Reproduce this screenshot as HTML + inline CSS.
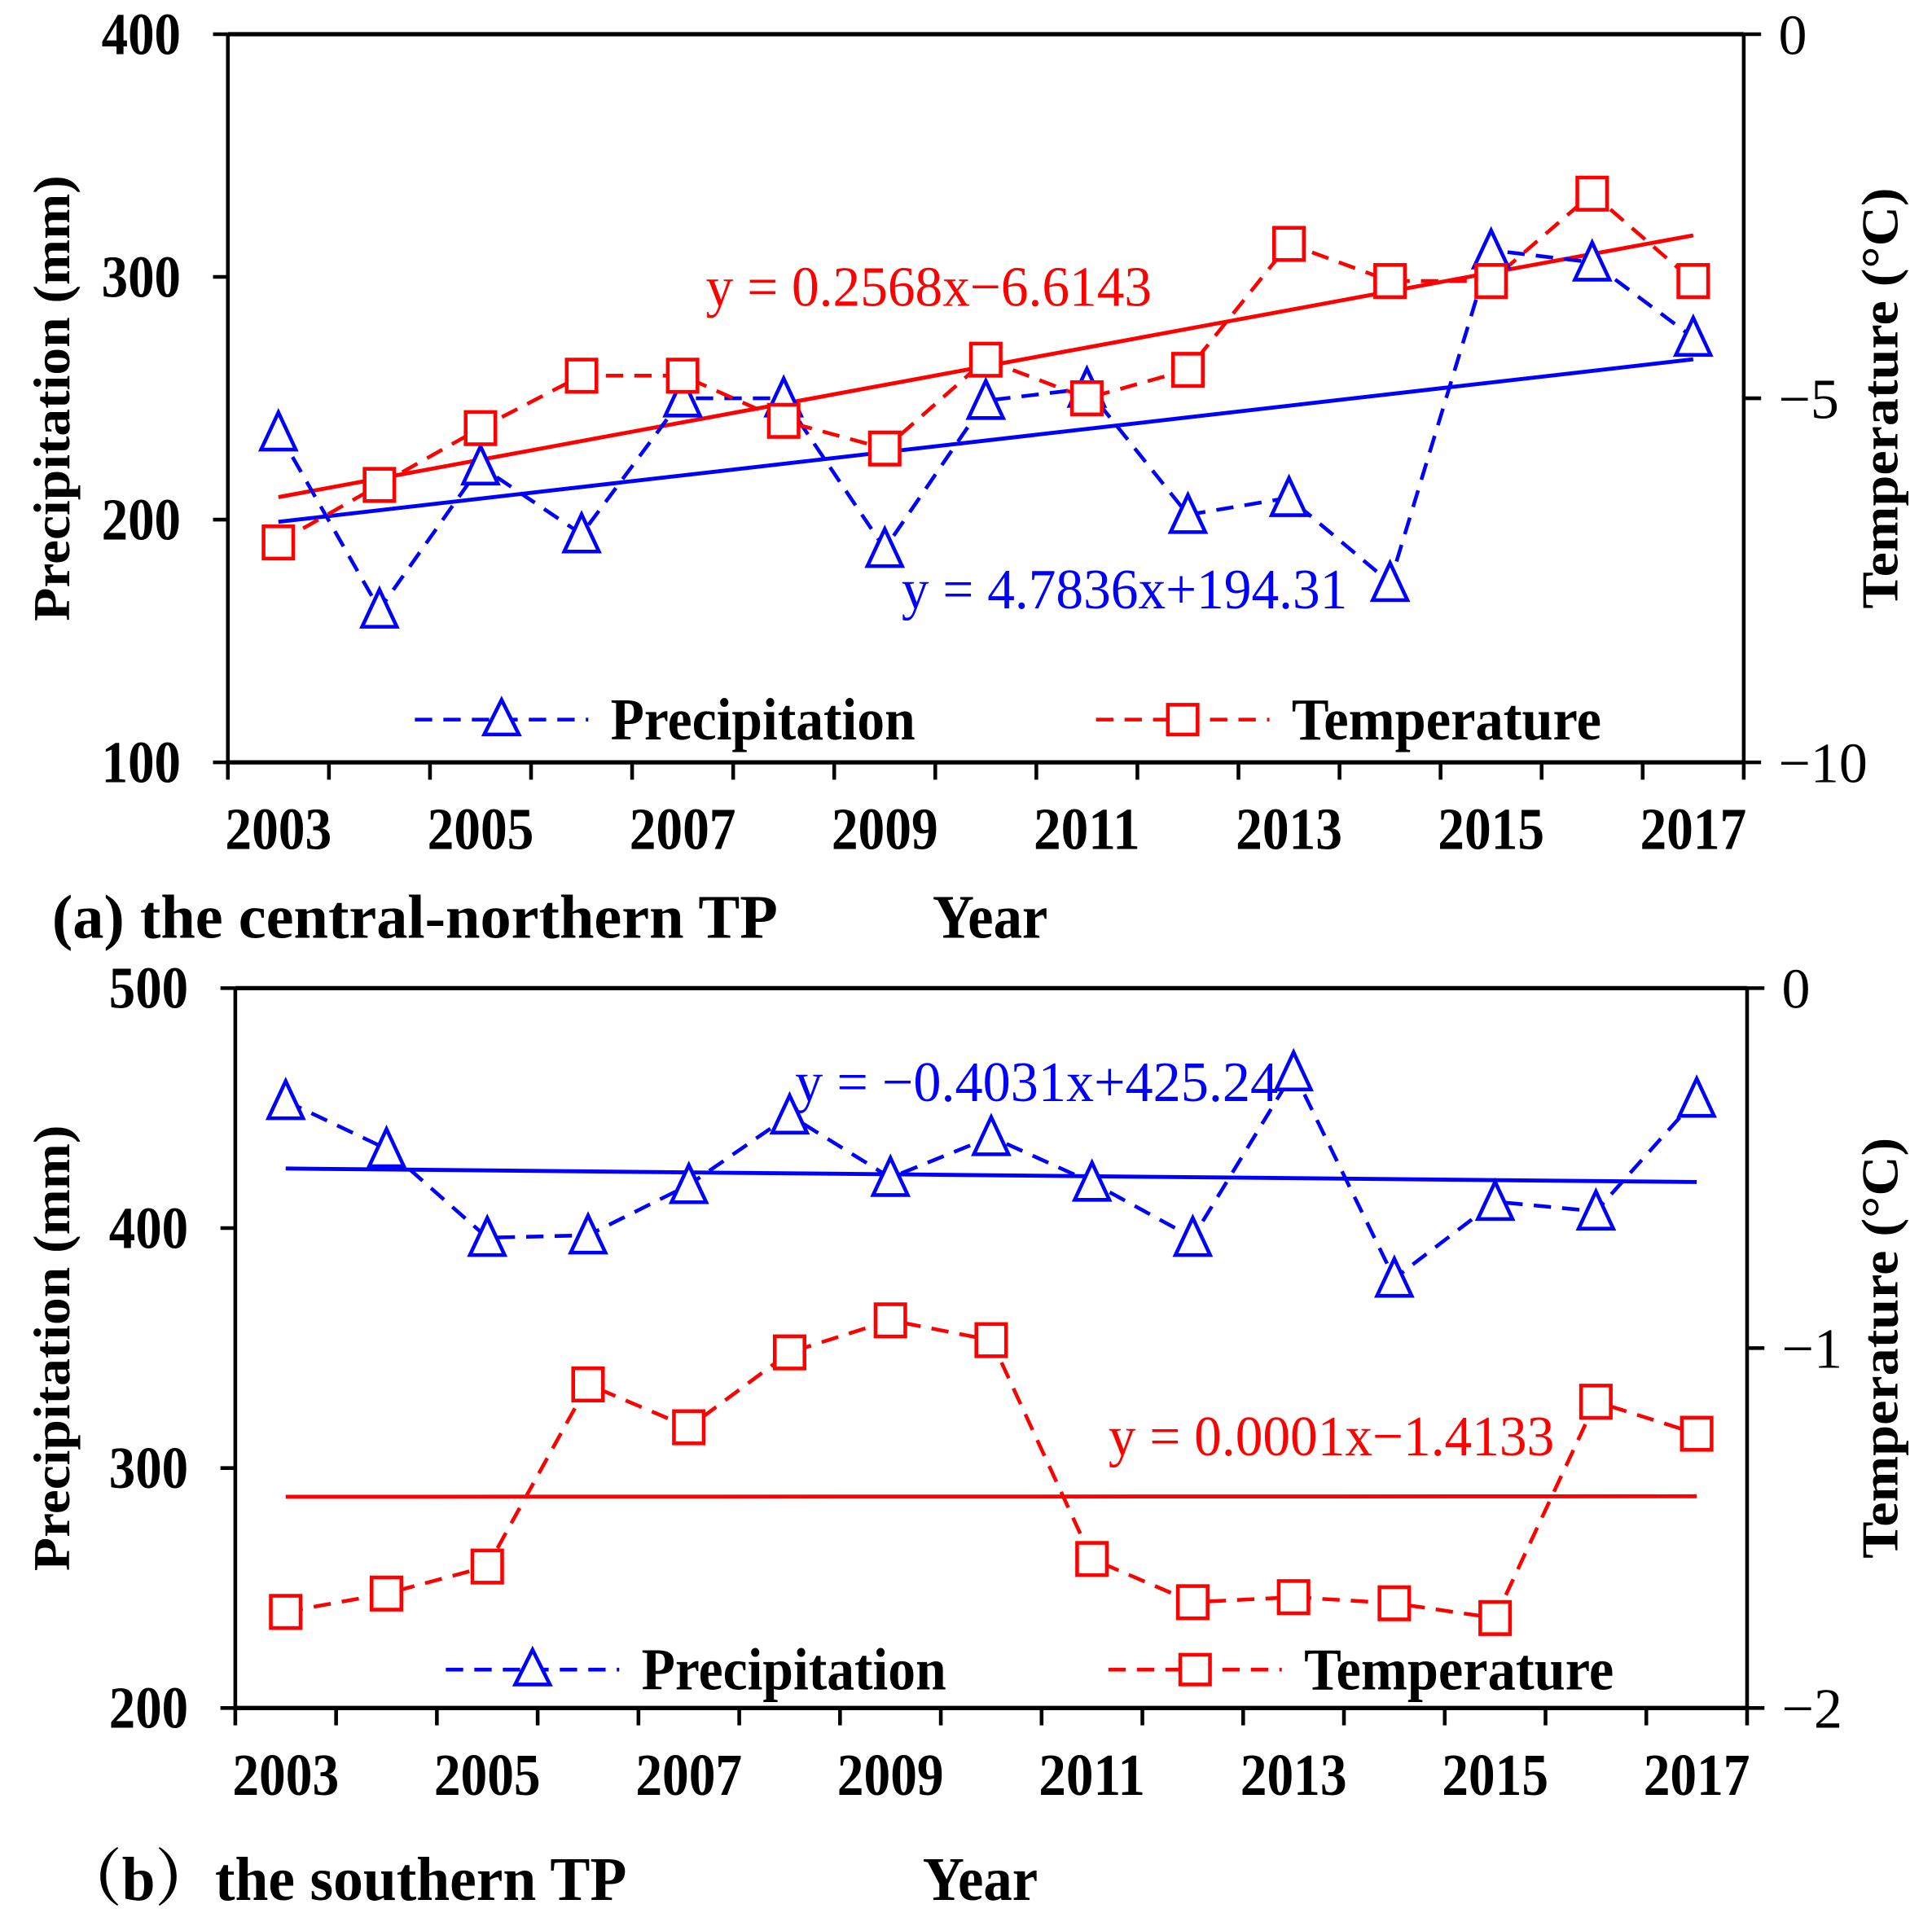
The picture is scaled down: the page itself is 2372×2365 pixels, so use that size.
<!DOCTYPE html>
<html><head><meta charset="utf-8"><style>
html,body{margin:0;padding:0;background:#fff;}
svg{display:block;}
text{font-family:"Liberation Serif","Noto Serif CJK SC",serif;}
</style></head><body>
<svg id="chart" width="2372" height="2365" viewBox="0 0 1560 1555" preserveAspectRatio="none" xmlns="http://www.w3.org/2000/svg"></svg>
<script>
const years = [2003,2004,2005,2006,2007,2008,2009,2010,2011,2012,2013,2014,2015,2016,2017];
const yearLabels = ["2003","2005","2007","2009","2011","2013","2015","2017"];
const precipA = [236,163,222,194,250,250,188,249,254,202,209,174,311,306,275];
const tempA = [-6.98,-6.19,-5.41,-4.69,-4.69,-5.31,-5.69,-4.47,-5.0,-4.61,-2.88,-3.39,-3.39,-2.19,-3.39];
const precipB = [453,433,396,397,418,447,421,438,419,396,465,379,411,407,454];
const tempB = [-1.733,-1.682,-1.607,-1.101,-1.22,-1.012,-0.923,-0.978,-1.586,-1.706,-1.692,-1.709,-1.75,-1.149,-1.238];
const precipTicksA = [100,200,300,400];
const tempTicksA = [-10,-5,0];
const precipTicksB = [200,300,400,500];
const tempTicksB = [-2,-1,0];
const trendA = {ps:4.7836, pi:194.31, ts:0.2568, ti:-6.6143};
const trendB = {ps:-0.4031, pi:425.24, ts:0.0001, ti:-1.4133};

const NS="http://www.w3.org/2000/svg";
const svg=document.getElementById('chart');
function el(tag,attrs,parent){const e=document.createElementNS(NS,tag);for(const k in attrs)e.setAttribute(k,attrs[k]);(parent||svg).appendChild(e);return e;}
function txt(s,attrs,parent){const e=el('text',attrs,parent);e.textContent=s;return e;}

function panel(cfg){
  const g=el('g',{});
  
  
  const L=cfg.L,R=cfg.R,T=cfg.T,B=cfg.B;
  const step=(R-L)/years.length;
  const x=i=>L+step*(i+0.5);
  const yP=v=>B-(v-cfg.pMin)/(cfg.pMax-cfg.pMin)*(B-T);
  const yT=v=>B-(v-cfg.tMin)/(cfg.tMax-cfg.tMin)*(B-T);
  const tl1=el('line',{x1:x(0),y1:yP(cfg.tr.pi+cfg.tr.ps*1),x2:x(14),y2:yP(cfg.tr.pi+cfg.tr.ps*15),stroke:'#0000ff','stroke-width':3.2},g);
  
  
  const tl2=el('line',{x1:x(0),y1:yT(cfg.tr.ti+cfg.tr.ts*1),x2:x(14),y2:yT(cfg.tr.ti+cfg.tr.ts*15),stroke:'#ff0000','stroke-width':3.2},g);
  
  
  const pp=el('polyline',{points:cfg.p.map((v,i)=>x(i)+','+yP(v)).join(' '),fill:'none',stroke:'#0000ff','stroke-width':3,'stroke-dasharray':'14,9'},g);
  
  
  const tp=el('polyline',{points:cfg.t.map((v,i)=>x(i)+','+yT(v)).join(' '),fill:'none',stroke:'#ff0000','stroke-width':3,'stroke-dasharray':'14,9'},g);
  
  
  cfg.p.forEach((v,i)=>{
    const cx=x(i),cy=yP(v);
    const m=el('polygon',{points:`${cx},${cy-16} ${cx-14},${cy+14} ${cx+14},${cy+14}`,fill:'#fff',stroke:'#0000ff','stroke-width':3},g);
    
    
  });
  cfg.t.forEach((v,i)=>{
    const cx=x(i),cy=yT(v);
    const m=el('rect',{x:cx-12,y:cy-13,width:24,height:26,fill:'#fff',stroke:'#ff0000','stroke-width':3},g);
    
    
  });
  el('line',{x1:L,y1:T,x2:R,y2:T,stroke:'#000','stroke-width':3.5},g);
  el('line',{x1:L,y1:B,x2:R,y2:B,stroke:'#000','stroke-width':3.5},g);
  el('line',{x1:L,y1:T,x2:L,y2:B+14,stroke:'#000','stroke-width':3},g);
  el('line',{x1:R,y1:T,x2:R,y2:B+14,stroke:'#000','stroke-width':3},g);
  for(let k=1;k<years.length;k++) el('line',{x1:L+step*k,y1:B,x2:L+step*k,y2:B+14,stroke:'#000','stroke-width':3},g);
  cfg.pt.forEach(v=>{
    el('line',{x1:L-12,y1:yP(v),x2:L,y2:yP(v),stroke:'#000','stroke-width':3},g);
    const t=txt(String(v),{x:L-38,y:yP(v)+16,'font-size':48,'font-weight':'bold','text-anchor':'end',textLength:64,lengthAdjust:'spacingAndGlyphs'},g);
    
    
  });
  cfg.tt.forEach(v=>{
    el('line',{x1:R,y1:yT(v),x2:R+14,y2:yT(v),stroke:'#000','stroke-width':3},g);
    const s=v<0?'\u2212'+(-v):String(v);
    const t=txt(s,{x:R+28,y:yT(v)+16,'font-size':46,'text-anchor':'start'},g);
    
    
  });
  yearLabels.forEach(s=>{
    const i=years.indexOf(+s);
    const t=txt(s,{x:x(i),y:B+70,'font-size':48,'font-weight':'bold','text-anchor':'middle',textLength:86,lengthAdjust:'spacingAndGlyphs'},g);
    
    
  });
  const ylt=txt('Precipitation (mm)',{x:0,y:0,'font-size':42,'font-weight':'bold','text-anchor':'middle',transform:`translate(56,${(T+B)/2}) rotate(-90)`,textLength:360,lengthAdjust:'spacingAndGlyphs'},g);
  
  
  const yrt=txt('Temperature (\u00B0C)',{x:0,y:0,'font-size':42,'font-weight':'bold','text-anchor':'middle',transform:`translate(1532,${(T+B)/2}) rotate(-90)`,textLength:340,lengthAdjust:'spacingAndGlyphs'},g);
  
  
  const e1=txt(cfg.eqP,{x:cfg.eqPx,y:cfg.eqPy,'font-size':46,fill:'#0000ff',textLength:cfg.eqPw,lengthAdjust:'spacingAndGlyphs'},g);
  
  
  const e2=txt(cfg.eqT,{x:cfg.eqTx,y:cfg.eqTy,'font-size':46,fill:'#ff0000',textLength:cfg.eqTw,lengthAdjust:'spacingAndGlyphs'},g);
  
  
  const ly=cfg.legY, lx=cfg.legX;
  const lg=el('g',{},g);
  
  
  el('line',{x1:lx,y1:ly,x2:lx+140,y2:ly,stroke:'#0000ff','stroke-width':3,'stroke-dasharray':'14,9'},lg);
  el('polygon',{points:`${lx+70},${ly-16} ${lx+56},${ly+12} ${lx+84},${ly+12}`,fill:'#fff',stroke:'#0000ff','stroke-width':3},lg);
  const lt1=txt('Precipitation',{x:lx+158,y:ly+16,'font-size':48,'font-weight':'bold',textLength:246,lengthAdjust:'spacingAndGlyphs'},lg);
  
  
  const lx2=cfg.legX2;
  el('line',{x1:lx2,y1:ly,x2:lx2+140,y2:ly,stroke:'#ff0000','stroke-width':3,'stroke-dasharray':'14,9'},lg);
  el('rect',{x:lx2+58,y:ly-12,width:24,height:24,fill:'#fff',stroke:'#ff0000','stroke-width':3},lg);
  const lt2=txt('Temperature',{x:lx2+158,y:ly+16,'font-size':48,'font-weight':'bold',textLength:250,lengthAdjust:'spacingAndGlyphs'},lg);
  
  
  const pt=txt(cfg.title,{x:cfg.titleX,y:cfg.titleY,'font-size':50,'font-weight':'bold',textLength:cfg.titleW,lengthAdjust:'spacingAndGlyphs'},g);
  
  
  const xt=txt('Year',{x:cfg.yearX,y:cfg.titleY,'font-size':50,'font-weight':'bold',textLength:93,lengthAdjust:'spacingAndGlyphs'},g);
  
  
}

panel({name:'panel-a',L:184,R:1408,T:27.6,B:615.5,pMin:100,pMax:400,tMin:-10,tMax:0,p:precipA,t:tempA,pt:precipTicksA,tt:tempTicksA,tr:trendA,
  eqP:'y = 4.7836x+194.31',eqPx:728,eqPy:491,eqPw:360,eqT:'y = 0.2568x\u22126.6143',eqTx:570,eqTy:247,eqTw:360,
  legY:581,legX:335,legX2:885,title:'(a) the central-northern TP',titleX:42,titleY:757,titleW:586,yearX:753});
panel({name:'panel-b',L:190,R:1410.7,T:797.8,B:1379,pMin:200,pMax:500,tMin:-2,tMax:0,p:precipB,t:tempB,pt:precipTicksB,tt:tempTicksB,tr:trendB,
  eqP:'y = \u22120.4031x+425.24',eqPx:642,eqPy:889,eqPw:390,eqT:'y = 0.0001x\u22121.4133',eqTx:895,eqTy:1175,eqTw:360,
  legY:1348,legX:360,legX2:895,title:'\uFF08b\uFF09the southern TP',titleX:50,titleY:1534,titleW:456,yearX:745});
</script>
</body></html>
